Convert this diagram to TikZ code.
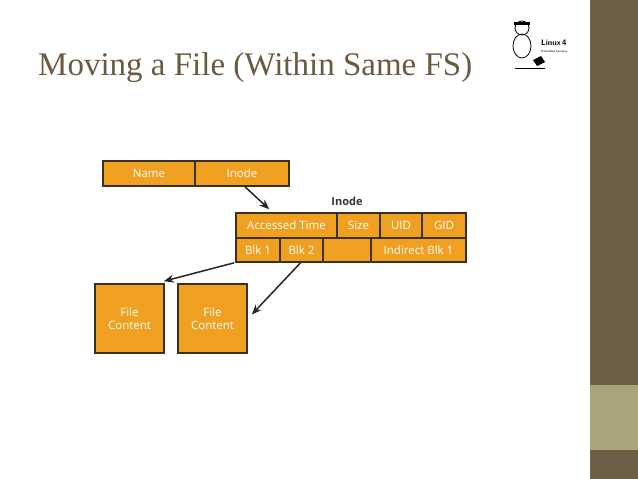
\documentclass[tikz,border=0pt]{standalone}
\usepackage{fontspec}
\setmainfont{Liberation Serif}
\newfontfamily\boxfont{Open Sans}
\usetikzlibrary{arrows.meta,calc}
\definecolor{bar}{HTML}{6B5F48}
\definecolor{barlight}{HTML}{A9A47C}
\definecolor{titlec}{HTML}{6B5A40}
\definecolor{org}{HTML}{F0A020}
\definecolor{edge}{HTML}{3A3020}
\begin{document}
\begin{tikzpicture}[x=1pt,y=-1pt,
  cell/.style={draw=edge,line width=1.6pt,fill=org,inner sep=0pt,font=\boxfont\fontsize{11.5}{12}\selectfont,text=white},
  conn/.style={-{Stealth[length=10pt,width=8pt]},line width=1.5pt,draw=black!85}]
\useasboundingbox (0,0) rectangle (638,479);
\fill[white] (0,0) rectangle (590,479);
\fill[bar] (590,0) rectangle (638,479);
\fill[barlight] (590,385) rectangle (638,450);
\node[anchor=base west,text=titlec,font=\fontsize{33}{36}\selectfont,inner sep=0pt] (title) at (38,75) {Moving a File (Within Same FS)};
% logo
\node[font=\sffamily\bfseries\fontsize{8}{8}\selectfont,anchor=west,inner sep=0pt] (lx) at (541,43) {Linux\,4};
\node[font=\sffamily\fontsize{3}{3}\selectfont,anchor=west,inner sep=0pt] (ls) at (541,52) {Embedded Systems};
\draw[line width=0.8pt] (522,46) ellipse (9 and 12);
\draw[line width=0.8pt] (522,28) ellipse (7 and 7);
\fill[black] (514,22) rectangle (530,25);
\fill[black] (533,60) -- (541,56) -- (545,62) -- (537,66) -- cycle;
\draw[line width=0.5pt] (515,68) -- (545,68);
% directory entry
\node[cell,minimum width=92pt,minimum height=25pt] (name) at (149,173.5) {Name};
\node[cell,minimum width=94pt,minimum height=25pt] (ino) at (242,173.5) {Inode};
% inode
\node[font=\boxfont\bfseries\fontsize{11}{12}\selectfont,text=black!80,inner sep=0pt] (inolab) at (347,201) {Inode};
\node[cell,minimum width=101pt,minimum height=25pt] (at) at (286.5,225.5) {Accessed Time};
\node[cell,minimum width=43pt,minimum height=25pt] (sz) at (358.5,225.5) {Size};
\node[cell,minimum width=42pt,minimum height=25pt] (uid) at (401,225.5) {UID};
\node[cell,minimum width=44pt,minimum height=25pt] (gid) at (444,225.5) {GID};
\node[cell,minimum width=44pt,minimum height=24pt] (b1) at (258,250) {Blk 1};
\node[cell,minimum width=43pt,minimum height=24pt] (b2) at (301.5,250) {Blk 2};
\node[cell,minimum width=48pt,minimum height=24pt] (emp) at (347,250) {};
\node[cell,minimum width=95pt,minimum height=24pt] (ind) at (418.5,250) {Indirect Blk 1};
% content
\node[cell,minimum width=69pt,minimum height=69pt,align=center,font=\boxfont\fontsize{11.5}{13}\selectfont] (fc1) at (129.5,318.5) {File\\Content};
\node[cell,minimum width=69pt,minimum height=69pt,align=center,font=\boxfont\fontsize{11.5}{13}\selectfont] (fc2) at (212.5,318.5) {File\\Content};
\draw[conn] ($(ino.south)+(3,0)$) -- ($(at.north west)+(34,-3)$);
\draw[conn] ($(b1.south west)+(-1,0)$) -- ($(fc1.north east)+(-1,-2)$);
\draw[conn] ($(b2.south)+(-1,0)$) -- ($(fc2.east)+(4,-4)$);
\end{tikzpicture}
\end{document}
